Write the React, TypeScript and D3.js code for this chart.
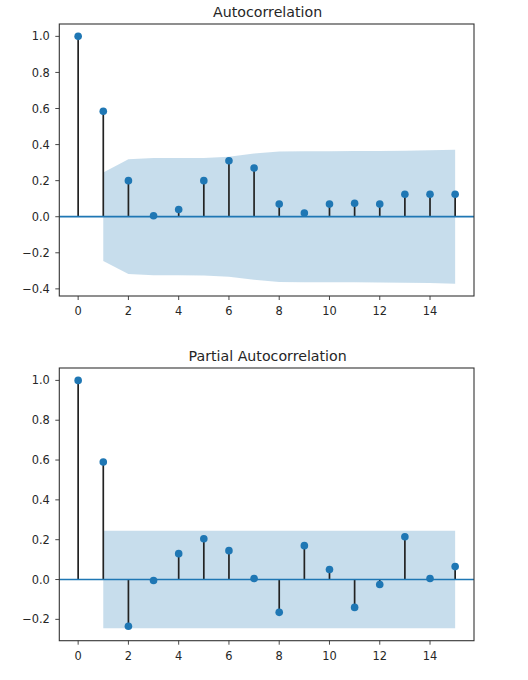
import * as d3 from 'd3'

// lag 0..15
const lags = d3.range(0, 16)
const acfValues = [1.0, 0.585, 0.2, 0.005, 0.04, 0.2, 0.31, 0.27, 0.07, 0.02, 0.07, 0.075, 0.07, 0.125, 0.125, 0.125]
const pacfValues = [1.0, 0.59, -0.235, -0.005, 0.13, 0.205, 0.145, 0.005, -0.165, 0.17, 0.05, -0.14, -0.025, 0.215, 0.005, 0.065]

// confidence band half-widths, lags 1..15
const bandLags = d3.range(1, 16)
const acfBand = [0.245, 0.318, 0.325, 0.325, 0.326, 0.333, 0.35, 0.362, 0.363, 0.363, 0.364, 0.365, 0.366, 0.368, 0.371]
const pacfBand = [0.245, 0.245, 0.245, 0.245, 0.245, 0.245, 0.245, 0.245, 0.245, 0.245, 0.245, 0.245, 0.245, 0.245, 0.245]

const xTicks = [0, 2, 4, 6, 8, 10, 12, 14]
const acfYTicks = [-0.4, -0.2, 0, 0.2, 0.4, 0.6, 0.8, 1.0]
const pacfYTicks = [-0.2, 0, 0.2, 0.4, 0.6, 0.8, 1.0]

const BLUE = '#1f77b4'
const TEXT = '#262626'
const FONT = '"DejaVu Sans", sans-serif'

interface PanelProps {
  title: string
  values: number[]
  band: number[]
  yTicks: number[]
  top: number
  height: number
}

function fmt(v: number) {
  const s = Math.abs(v).toFixed(1)
  return v < -1e-9 ? '\u2212' + s : s
}

function Panel({ title, values, band, yTicks, top, height }: PanelProps) {
  const left = 59.3
  const right = 474
  const bottom = top + height

  const x = d3.scaleLinear().domain([-0.75, 15.75]).range([left, right])

  const lo = Math.min(d3.min(values)!, -d3.max(band)!)
  const hi = Math.max(d3.max(values)!, d3.max(band)!)
  const pad = (hi - lo) * 0.05
  const y = d3.scaleLinear().domain([lo - pad, hi + pad]).range([bottom, top])

  const area = d3.area<number>()
    .x((_, i) => x(bandLags[i]))
    .y0(d => y(-d))
    .y1(d => y(d))

  return (
    <g>
      <text x={(left + right) / 2 + 1} y={top - 7} textAnchor="middle" fontSize={14.2} fill={TEXT} fontFamily={FONT}>
        {title}
      </text>
      <path d={area(band) ?? ''} fill={BLUE} fillOpacity={0.25} />
      {lags.map(l => (
        <line key={'s' + l} x1={x(l)} x2={x(l)} y1={y(0)} y2={y(values[l])} stroke="#222" strokeWidth={1.7} />
      ))}
      <line x1={left} x2={right} y1={y(0)} y2={y(0)} stroke={BLUE} strokeWidth={1.7} />
      {lags.map(l => (
        <circle key={'c' + l} cx={x(l)} cy={y(values[l])} r={3.8} fill={BLUE} />
      ))}
      <rect x={left} y={top} width={right - left} height={height} fill="none" stroke="#333" strokeWidth={1.1} />
      {xTicks.map(t => (
        <g key={'x' + t}>
          <line x1={x(t)} x2={x(t)} y1={bottom} y2={bottom + 4} stroke="#333" strokeWidth={0.9} />
          <text x={x(t)} y={bottom + 19} textAnchor="middle" fontSize={11.4} fill={TEXT} fontFamily={FONT}>
            {t}
          </text>
        </g>
      ))}
      {yTicks.map(t => (
        <g key={'y' + t}>
          <line x1={left - 4} x2={left} y1={y(t)} y2={y(t)} stroke="#333" strokeWidth={0.9} />
          <text x={left - 9.5} y={y(t)} dy="0.36em" textAnchor="end" fontSize={11.4} fill={TEXT} fontFamily={FONT}>
            {fmt(t)}
          </text>
        </g>
      ))}
    </g>
  )
}

export default function App() {
  return (
    <div style={{ position: 'absolute', left: 0, top: 0 }}>
      <svg width={528} height={680} style={{ display: 'block', background: '#fff' }}>
        <Panel title="Autocorrelation" values={acfValues} band={acfBand} yTicks={acfYTicks} top={24} height={272} />
        <Panel title="Partial Autocorrelation" values={pacfValues} band={pacfBand} yTicks={pacfYTicks} top={368} height={272.7} />
      </svg>
    </div>
  )
}
